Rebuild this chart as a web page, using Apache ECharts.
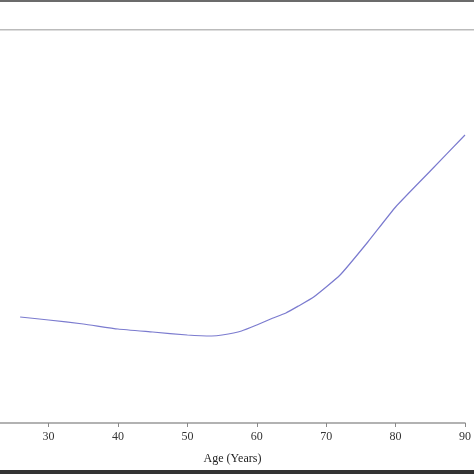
<!DOCTYPE html>
<html>
<head>
<meta charset="utf-8">
<script src="https://cdn.jsdelivr.net/npm/echarts@6/dist/echarts.min.js"></script>
<style>html,body{margin:0;padding:0;background:#fff}#c{width:474px;height:474px}</style>
</head>
<body>
<div id="c"></div>
<script>
// ages
const ages = [25.9, 30, 35, 40, 45, 50, 53.5, 55, 57.8, 60, 62, 64.2, 66, 68.2, 72, 76, 80, 85, 90];
// y values (arbitrary units, hidden axis)
const values = [106, 103, 99, 94, 91, 88, 87, 88, 92, 98, 104, 110, 117, 126, 148, 181, 216, 252, 288];
const tickAges = [30, 40, 50, 60, 70, 80, 90];

const chart = echarts.init(document.getElementById('c'));
chart.setOption({
    animation: false,
    grid: { left: 0, right: 0, top: 30, bottom: 51 },
    xAxis: {
        type: 'value', min: 23, max: 90,
        name: 'Age (Years)', nameLocation: 'middle', nameGap: 30,
        nameTextStyle: { fontFamily: 'Liberation Serif', fontSize: 12, color: '#222' },
        axisLine: { lineStyle: { color: '#999', width: 1.5 } },
        axisTick: { customValues: tickAges, length: 4, lineStyle: { color: '#888' } },
        axisLabel: { customValues: tickAges, fontFamily: 'Liberation Serif', fontSize: 12, color: '#333', margin: 8 },
        splitLine: { show: false }
    },
    yAxis: { type: 'value', min: 0, max: 393, show: false },
    graphic: [
        { type: 'rect', shape: { x: 0, y: 0, width: 474, height: 2 }, style: { fill: '#6b6b6b' } },
        { type: 'rect', shape: { x: 0, y: 29, width: 474, height: 1.5 }, style: { fill: '#bbb' } },
        { type: 'rect', shape: { x: 0, y: 470, width: 474, height: 4 }, style: { fill: '#333' } }
    ],
    series: [{
        type: 'line', smooth: 0.15, symbol: 'none',
        data: ages.map((a, i) => [a, values[i]]),
        lineStyle: { color: '#7b7bcf', width: 1.2 }
    }]
});
</script>
</body>
</html>
